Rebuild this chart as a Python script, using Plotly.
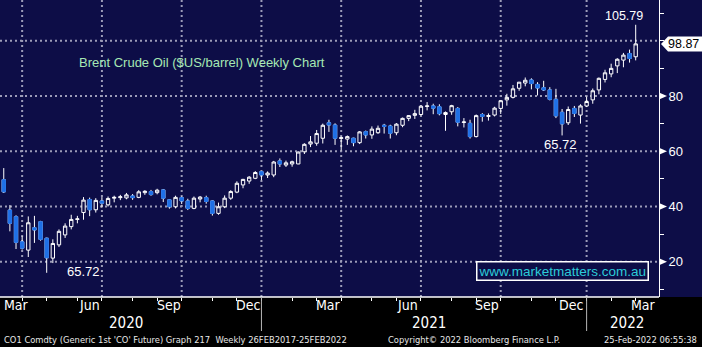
import pandas as pd
import plotly.graph_objects as go

# ---- weekly Brent (CO1) bars, week ending Friday ----
week_end = pd.date_range("2020-02-28", "2022-02-25", freq="W-FRI")

opens = [
    58.3, 49.7, 38.7, 36.3, 27.2, 24.2, 32.3, 34.5, 28.5,
    21.3, 26.1, 29.7, 32.7, 35.3,
    37.8, 42.5, 38.8, 42.0,
    40.6, 43.0, 43.2, 43.1, 43.8,
    43.3, 45.0, 45.4, 45.0,
    46.0, 42.4, 39.9, 43.2,
    42.0, 39.3, 42.7, 43.2, 42.0,
    37.5, 39.9, 43.0, 45.2,
    47.8, 49.2, 50.2, 52.6, 51.4,
    51.4, 56.5, 55.0, 55.4,
    55.4, 59.8, 62.6, 62.9,
    64.7, 70.3, 69.5, 64.6,
    64.4, 64.7, 63.1, 67.1, 65.9,
    66.7, 69.4, 69.1, 66.7,
    69.4, 71.9, 73.0, 73.3,
    76.2, 76.4, 76.1, 73.3, 74.3,
    75.5, 70.4, 70.1, 65.3,
    73.3, 72.6, 73.1, 75.5,
    78.6, 79.5, 82.8, 84.7, 85.8,
    84.2, 83.0, 82.2, 78.8,
    74.1, 70.3, 75.5, 73.1, 76.4,
    78.6, 82.2, 86.0, 88.0,
    90.9, 93.0, 95.4, 94.2,
]
highs = [
    59.0, 53.9, 40.5, 36.8, 29.2, 36.4, 36.6, 34.8, 28.7,
    28.1, 31.7, 33.9, 37.0, 36.6,
    43.4, 43.2, 43.0, 43.4,
    43.6, 43.9, 44.2, 44.9, 44.5,
    45.9, 45.9, 46.0, 46.4,
    46.3, 42.6, 43.9, 43.6,
    42.8, 43.6, 43.8, 43.9, 42.2,
    41.4, 44.0, 45.9, 49.1,
    50.0, 51.0, 52.8, 52.8, 52.7,
    56.5, 57.4, 56.6, 56.6,
    59.9, 62.9, 65.5, 67.7,
    70.0, 71.4, 70.1, 65.3,
    65.7, 64.9, 67.3, 67.5, 69.0,
    69.3, 69.9, 69.6, 70.2,
    72.2, 73.1, 75.0, 76.6,
    77.8, 77.2, 77.0, 74.4, 76.8,
    76.0, 72.0, 71.4, 73.3,
    73.8, 73.7, 76.1, 78.5,
    80.8, 84.0, 85.1, 86.7, 86.4,
    85.0, 85.5, 83.2, 82.6,
    75.3, 76.2, 76.4, 77.0, 79.8,
    82.7, 86.7, 89.5, 91.7,
    93.7, 95.6, 96.8, 105.79,
]
lows = [
    49.8, 44.9, 31.0, 24.6, 24.4, 21.7, 26.8, 27.6, 15.98,
    19.5, 25.3, 28.6, 31.7, 33.9,
    35.2, 36.5, 37.8, 39.6,
    40.0, 41.5, 42.3, 42.6, 42.4,
    43.0, 44.2, 43.9, 44.4,
    41.6, 39.2, 39.3, 40.9,
    38.7, 39.0, 41.5, 41.0, 36.7,
    37.0, 39.4, 42.4, 44.8,
    46.6, 48.2, 49.9, 49.5, 50.3,
    50.6, 54.3, 54.3, 54.4,
    55.3, 59.0, 61.5, 62.0,
    62.8, 67.0, 62.3, 60.3,
    62.3, 61.8, 62.6, 64.6, 64.5,
    66.3, 66.4, 64.6, 65.8,
    68.7, 70.9, 71.7, 73.0,
    74.8, 73.4, 73.0, 67.4, 73.2,
    69.0, 68.6, 64.6, 65.0,
    70.7, 71.1, 72.6, 73.5,
    76.5, 79.1, 81.9, 83.5, 82.4,
    80.2, 81.8, 78.4, 72.0,
    65.72, 69.5, 72.4, 70.0, 76.0,
    77.2, 80.6, 84.9, 86.8,
    88.3, 90.4, 92.1, 92.9,
]
closes = [
    50.5, 45.3, 33.9, 27.0, 24.9, 34.1, 31.5, 28.1, 21.4,
    26.6, 31.0, 32.9, 35.3, 35.5,
    42.3, 38.8, 42.2, 41.2,
    42.9, 43.3, 43.5, 44.2, 43.2,
    45.3, 45.5, 44.3, 45.9,
    43.0, 39.9, 43.3, 42.0,
    39.3, 43.0, 43.4, 41.8, 37.5,
    39.9, 43.0, 45.4, 48.4,
    49.8, 50.6, 52.3, 51.4, 52.1,
    56.1, 55.4, 55.8, 56.2,
    59.7, 62.5, 63.4, 66.4,
    69.4, 69.5, 64.7, 64.9,
    65.3, 63.1, 67.0, 65.9, 68.0,
    68.3, 69.0, 66.5, 69.8,
    71.9, 72.9, 73.6, 76.3,
    76.4, 75.6, 73.6, 74.0, 76.5,
    70.5, 70.6, 65.3, 72.9,
    72.6, 72.9, 75.6, 78.3,
    79.5, 82.6, 85.0, 85.7, 84.5,
    82.9, 82.2, 78.8, 72.8,
    69.9, 75.1, 73.7, 76.4, 78.0,
    81.9, 86.4, 88.4, 90.0,
    93.3, 94.8, 93.6, 98.87,
]

# ---- axis labelling ----
y_ticks = [10, 20, 30, 40, 50, 60, 70, 80, 90, 100, 110]
y_labels = ["", "20", "", "40", "", "60", "", "80", "", "", ""]
y_grid = [20, 40, 60, 80, 100]
quarter_ends = ["2020-03-27", "2020-06-26", "2020-09-25", "2020-12-25",
                "2021-03-26", "2021-06-25", "2021-09-24", "2021-12-31"]
month_names = ["Mar", "Jun", "Sep", "Dec", "Mar", "Jun", "Sep", "Dec", "Mar"]
month_pos = ["2020-03-21", "2020-06-12", "2020-09-10", "2020-12-10",
             "2021-03-11", "2021-06-10", "2021-09-08", "2021-12-13", "2022-03-06"]
years = ["2020", "2021", "2022"]
year_pos = ["2020-07-24", "2021-07-04", "2022-02-15"]
year_breaks = ["2020-12-25", "2021-12-31"]

last_close = closes[-1]
last_high = highs[-1]

# ---- geometry ----
W, H = 702, 347
PLOT_BOTTOM = 297          # px from top where the chart panel ends
AXIS_X = 659               # px position of the price axis
bottom_frac = (H - PLOT_BOTTOM) / H
axis_frac = AXIS_X / W
y_range = [7.22, 114.76]
px_per_unit = PLOT_BOTTOM / (y_range[1] - y_range[0])
px_per_day = 589 / 672
x_start = pd.Timestamp("2020-04-24") - pd.Timedelta(days=46.7 / px_per_day)
x_end = x_start + pd.Timedelta(days=W / px_per_day)

BG = "#0d0d47"
BLUE = "#1f70e6"
GRID = "#9c9cb8"
NARROW = "Liberation Sans Narrow, DejaVu Sans Condensed, Arial Narrow, sans-serif"
SANS = "Liberation Sans, Arial, sans-serif"

fig = go.Figure()

# all bars: white wicks, hollow up-bodies, blue down-bodies
fig.add_trace(go.Candlestick(
    x=week_end, open=opens, high=highs, low=lows, close=closes,
    increasing=dict(line=dict(color="white", width=1), fillcolor=BG),
    decreasing=dict(line=dict(color="white", width=1), fillcolor=BLUE),
    whiskerwidth=0, hoverinfo="skip", showlegend=False,
))
# down bodies repainted without the white outline
dn = [i for i in range(len(opens)) if closes[i] < opens[i]]
fig.add_trace(go.Candlestick(
    x=[week_end[i] for i in dn],
    open=[opens[i] for i in dn], close=[closes[i] for i in dn],
    high=[opens[i] for i in dn], low=[closes[i] for i in dn],
    increasing=dict(line=dict(color=BLUE, width=1), fillcolor=BLUE),
    decreasing=dict(line=dict(color=BLUE, width=1), fillcolor=BLUE),
    whiskerwidth=0, hoverinfo="skip", showlegend=False,
))

# monthly ticks at the last bar of every month
wk = pd.Series(week_end, index=week_end)
month_ticks = [d for d in wk.groupby([wk.index.year, wk.index.month]).max()
               if d >= pd.Timestamp("2020-03-01")]

shapes = []
dot = "2px,3px"
for v in y_grid:
    shapes.append(dict(type="line", xref="paper", yref="y", x0=0, x1=axis_frac,
                       y0=v, y1=v, line=dict(color=GRID, width=2, dash=dot), layer="below"))
for d in quarter_ends:
    shapes.append(dict(type="line", xref="x", yref="paper", x0=d, x1=d,
                       y0=bottom_frac, y1=1, line=dict(color=GRID, width=2, dash=dot), layer="below"))
# bottom axis line
shapes.append(dict(type="line", xref="paper", yref="paper", x0=0, x1=axis_frac,
                   y0=bottom_frac, y1=bottom_frac, line=dict(color="white", width=1.5)))
# year separators
for d in year_breaks:
    shapes.append(dict(type="line", xref="x", yref="paper", x0=d, x1=d,
                       y0=bottom_frac, y1=(H - 331) / H, line=dict(color="#b8b8b8", width=1)))
# label pointers on the price axis
tri_w = 8 / W
tri_h = 3.5 / px_per_unit
for v, lab in zip(y_ticks, y_labels):
    if lab:
        shapes.append(dict(type="path", xref="paper", yref="y",
                           path=f"M {axis_frac},{v + tri_h} L {axis_frac + tri_w},{v} L {axis_frac},{v - tri_h} Z",
                           fillcolor="white", line=dict(color="white", width=0)))
# last price flag
fh = 7.5 / px_per_unit
fx0 = (AXIS_X + 2) / W
fx1 = (AXIS_X + 9) / W
shapes.append(dict(type="path", xref="paper", yref="y",
                   path=(f"M {fx0},{last_close} L {fx1},{last_close + fh} L 1,{last_close + fh} "
                         f"L 1,{last_close - fh} L {fx1},{last_close - fh} Z"),
                   fillcolor="white", line=dict(color="white", width=0)))

annotations = []
for name, pos in zip(month_names, month_pos):
    annotations.append(dict(x=pos, y=(H - 305) / H, xref="x", yref="paper", text=name,
                            showarrow=False, xanchor="center", yanchor="middle",
                            font=dict(family=NARROW, size=14, color="white")))
for name, pos in zip(years, year_pos):
    annotations.append(dict(x=pos, y=(H - 323) / H, xref="x", yref="paper", text=name,
                            showarrow=False, xanchor="center", yanchor="middle",
                            font=dict(family=NARROW, size=15, color="white")))
foot = dict(family=NARROW, size=9.3, color="#e8e8e8")
annotations += [
    dict(x=2 / W, y=(H - 339) / H, xref="paper", yref="paper", showarrow=False,
         text="CO1 Comdty (Generic 1st 'CO' Future) Graph 217  Weekly 26FEB2017-25FEB2022",
         xanchor="left", yanchor="middle", font=foot),
    dict(x=474 / W, y=(H - 339) / H, xref="paper", yref="paper", showarrow=False,
         text="Copyright© 2022 Bloomberg Finance L.P.", xanchor="center", yanchor="middle", font=foot),
    dict(x=699 / W, y=(H - 339) / H, xref="paper", yref="paper", showarrow=False,
         text="25-Feb-2022 06:55:38", xanchor="right", yanchor="middle", font=foot),
    dict(x=77 / W, y=(H - 63) / H, xref="paper", yref="paper", showarrow=False,
         text="Brent Crude Oil ($US/barrel) Weekly Chart", xanchor="left", yanchor="middle",
         font=dict(family=SANS, size=13, color="#a6e8b4")),
    dict(x=562.5 / W, y=(H - 270.5) / H, xref="paper", yref="paper", showarrow=False,
         text="www.marketmatters.com.au", xanchor="center", yanchor="middle",
         bordercolor="white", borderwidth=1.5, borderpad=1, bgcolor=BG,
         font=dict(family=SANS, size=13.5, color="#2ccbd8")),
    dict(x=week_end[-1], y=last_high, xref="x", yref="y", showarrow=False,
         text=f"{last_high:.2f}", xanchor="center", yanchor="bottom", xshift=-12, yshift=0,
         font=dict(family=SANS, size=12.5, color="white")),
    dict(x=(AXIS_X + 24.5) / W, y=last_close, xref="paper", yref="y", showarrow=False,
         text=f"{last_close:.2f}", xanchor="center", yanchor="middle",
         font=dict(family=SANS, size=12.5, color="black")),
    dict(x="2021-12-03", y=lows[week_end.get_loc(pd.Timestamp("2021-12-03"))], xref="x", yref="y",
         showarrow=False, text="65.72", xanchor="center", yanchor="top", xshift=-2,
         font=dict(family=SANS, size=13, color="white")),
    dict(x="2020-04-24", y=min(lows), xref="x", yref="y", showarrow=False, text="65.72",
         xanchor="left", yanchor="middle", xshift=18, yshift=1,
         font=dict(family=SANS, size=13, color="white")),
]

fig.update_layout(
    width=W, height=H, margin=dict(l=0, r=0, t=0, b=0),
    paper_bgcolor="black", plot_bgcolor=BG,
    showlegend=False, boxgap=0.22, hovermode=False,
    shapes=shapes, annotations=annotations,
    xaxis=dict(type="date", range=[x_start, x_end], domain=[0, 1],
               rangeslider=dict(visible=False), showgrid=False, zeroline=False,
               showline=False, tickmode="array", tickvals=month_ticks,
               ticks="outside", ticklen=3, tickcolor="white", tickwidth=1,
               showticklabels=False, fixedrange=True),
    yaxis=dict(domain=[bottom_frac, 1], range=y_range, anchor="free", position=axis_frac,
               side="right", showline=True, linecolor="white", linewidth=1,
               showgrid=False, zeroline=False, tickmode="array",
               tickvals=y_ticks, ticktext=y_labels, ticks="outside", ticklen=4,
               tickcolor="white", ticklabelstandoff=2,
               tickfont=dict(family=SANS, size=13, color="white"), fixedrange=True),
)

fig.write_html("out.html", config={"displayModeBar": False})
